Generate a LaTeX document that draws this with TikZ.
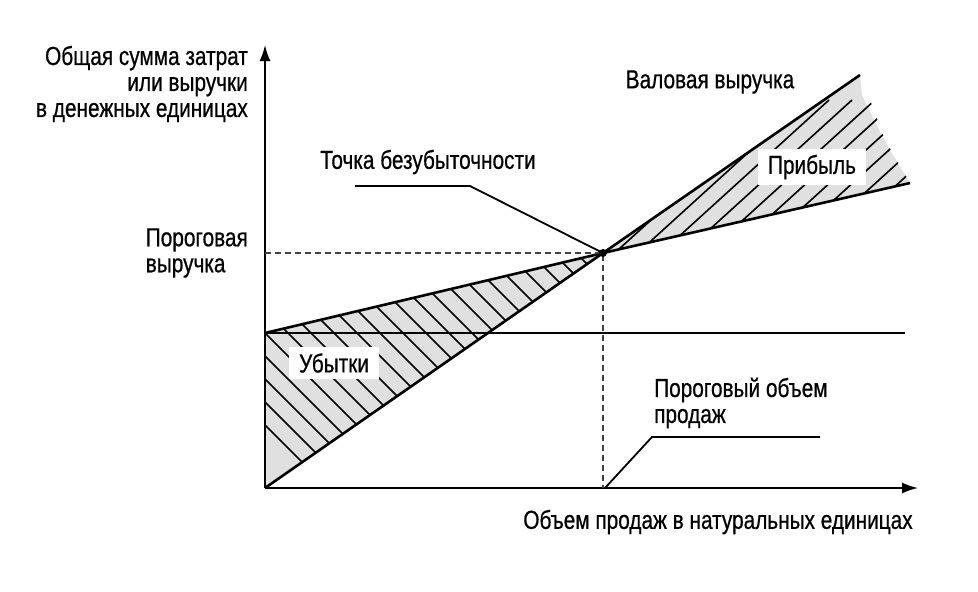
\documentclass[tikz,border=0pt]{standalone}
\usepackage{fontspec}
\setmainfont[FakeStretch=0.8,FakeBold=0.6]{Liberation Sans}
\usetikzlibrary{arrows.meta}
\begin{document}
\begin{tikzpicture}[x=1pt,y=-1pt,line cap=butt,
  lbl/.style={font=\fontsize{26}{26}\selectfont, inner sep=2pt},
  wbox/.style={lbl, fill=white, inner xsep=10pt, inner ysep=6pt},
  bold/.style={line width=2.6pt},
  thin/.style={line width=1.8pt},
  hatch/.style={line width=1.6pt}]
\useasboundingbox (0,0) rectangle (978,592);

% key points
\coordinate (O) at (265,488);
\coordinate (F) at (265,333);
\coordinate (B) at (603,253);
\coordinate (R) at (860,75);
\coordinate (C) at (910,183);

% loss area
\fill[black!12] (F) -- (B) -- (O) -- cycle;
\begin{scope}
  \clip (F) -- (B) -- (O) -- cycle;
  \foreach \i in {0,...,30}
    \draw[hatch] ({\i*23+40},200) -- ++(320,320);
\end{scope}

% profit area
\fill[black!12] (B) -- (R) -- (862,95) -- (878,128) -- (890,150) -- (C) -- cycle;
\begin{scope}
  \clip (B) -- (R) -- (872,105) -- (885,140) -- (C) -- cycle;
  \foreach \i in {0,...,30}
    \draw[hatch] ({\i*23+430},400) -- ++(330,-300);
\end{scope}

% axes
\draw[thin,-{Latex[length=16pt,width=11pt]}] (O) -- (265,45);
\draw[thin,-{Latex[length=16pt,width=11pt]}] (O) -- (918,488);

% fixed costs, total costs, revenue
\draw[thin] (F) -- (905,333);
\draw[bold] (F) -- (B) -- (C);
\draw[bold] (O) -- (B) -- (R);

% break-even guides
\draw[thin,dash pattern=on 6pt off 4pt,black!75] (265,253) -- (B) -- (603,488);
\fill (B) circle(4pt);

% labels
\node[lbl, anchor=east, align=right] (ylab) at (250,84)
  {Общая сумма затрат\\или выручки\\в денежных единицах};
\node[lbl, anchor=east, align=left] (thr) at (250,253) {Пороговая\\выручка};
\node[lbl] (rev) at (710,82) {Валовая выручка};
\node[lbl] (bep) at (428,162) {Точка безубыточности};
\node[wbox] (prof) at (812,167) {Прибыль};
\node[wbox] (loss) at (334,363) {Убытки};
\node[lbl, anchor=west, align=left] (vol) at (652,403) {Пороговый объем\\продаж};
\node[lbl] (xlab) at (718,522) {Объем продаж в натуральных единицах};

% leaders
\coordinate (bl) at (355,186);
\coordinate (bk) at (470,186);
\draw[thin] (bl) -- (bk) -- (B);
\coordinate (vl) at (820,437);
\coordinate (vk) at (652,437);
\draw[thin] (vl) -- (vk) -- (605,488);
\end{tikzpicture}
\end{document}
